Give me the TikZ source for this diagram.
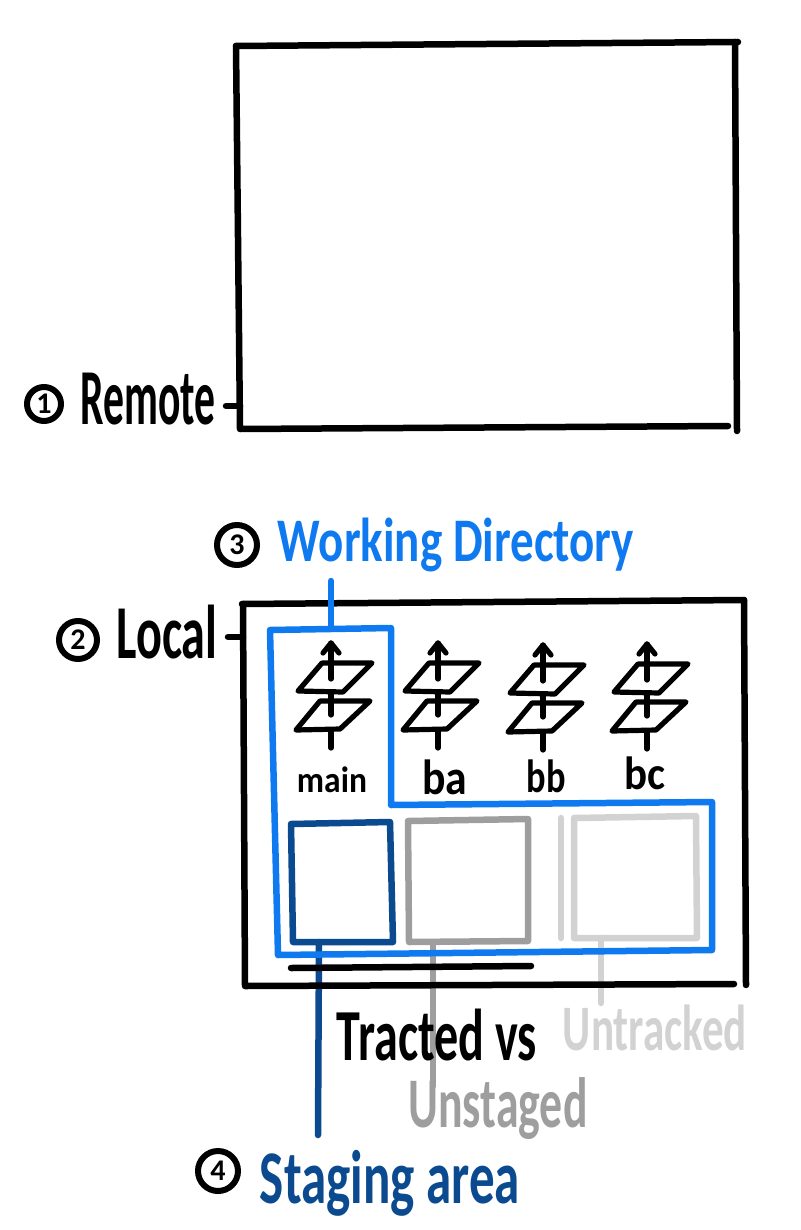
\documentclass[tikz,border=0pt]{standalone}
\usepackage{fontspec}
\usepackage{graphicx}
\setmainfont{Carlito}
\definecolor{wdblue}{HTML}{0F7AF0}
\definecolor{stblue}{HTML}{0B4A8F}
\definecolor{usgray}{HTML}{9E9E9E}
\definecolor{utgray}{HTML}{D2D2D2}
\newcommand{\hw}[3]{\resizebox*{#1pt}{#2pt}{\bfseries #3}}
\tikzset{
  ink/.style={line width=6.5pt,line cap=round,line join=round,draw=black},
  thin ink/.style={line width=5.2pt,line cap=round,line join=round,draw=black},
  label text/.style={inner sep=0pt,text=black},
  num/.style={circle,draw=black,line width=6pt,inner sep=0pt,minimum size=#1,font=\bfseries\fontsize{30}{30}\selectfont},
  stackicon/.pic={
    \draw[thin ink] (0,103) -- (0,87);
    \draw[thin ink] (0,70) -- (0,48);
    \draw[thin ink] (0,34) -- (0,-2);
    \draw[thin ink] (-8,8) -- (0,-2) -- (8,8);
    \draw[thin ink] (-33,46) -- (-9,18) -- (41,18) -- (12,47) -- cycle;
    \draw[thin ink] (-35,85) -- (-11,56) -- (39,56) -- (9,84) -- cycle;
  }
}
\begin{document}
\begin{tikzpicture}[x=1pt,y=-1pt]
\useasboundingbox (0,0) rectangle (800,1230);
% named points
\coordinate (rt1) at (226,406); \coordinate (rt2) at (240,406);
\coordinate (lt1) at (228,637); \coordinate (lt2) at (243,637);
\coordinate (wdtop) at (331,581); \coordinate (wdbox) at (331,628);
\coordinate (stbox) at (319,942); \coordinate (stend) at (318,1135);
\coordinate (usbox) at (433,942); \coordinate (usend) at (433,1086);
\coordinate (utbox) at (601,938); \coordinate (utend) at (601,1003);
% connectors beneath
\draw[ink,draw=stblue] (stbox) -- (stend);
\draw[ink,draw=usgray] (usbox) -- (usend);
\draw[ink,draw=utgray] (utbox) -- (utend);
% remote box
\draw[ink] (236,46) -- (738,42);
\draw[ink] (236,46) -- (240,429) -- (728,426);
\draw[ink] (735,42) -- (737,431);
\draw[ink] (rt1) -- (rt2);
% local box
\draw[ink] (242,604) -- (744,600);
\draw[ink] (243,604) -- (245,986) -- (734,984);
\draw[ink] (744,600) -- (746,985);
\draw[ink] (lt1) -- (lt2);
% working directory outline
\draw[ink,draw=wdblue] (wdtop) -- (wdbox);
\draw[ink,draw=wdblue] (270,630) -- (391,628) -- (391,805) -- (712,802) -- (712,950) -- (278,955) -- cycle;
% stores
\draw[ink,draw=stblue] (291,824) -- (390,822) -- (393,942) -- (293,942) -- cycle;
\draw[ink,draw=usgray] (408,821) -- (528,819) -- (528,941) -- (409,942) -- cycle;
\draw[ink,draw=utgray] (574,818) -- (696,816) -- (697,938) -- (574,938) -- cycle;
\draw[ink,draw=utgray] (561,818) -- (561,938);
\draw[ink] (291,968) -- (531,966);
% stacks
\pic (s1) at (331,645) {stackicon};
\pic (s2) at (438,645) {stackicon};
\pic (s3) at (543,647) {stackicon};
\pic (s4) at (647,646) {stackicon};
% labels
\node[label text] (main) at (332,780) {\hw{70}{26}{main}};
\node[label text] (ba) at (445,777) {\hw{45}{35}{ba}};
\node[label text] (bb) at (546,776) {\hw{39}{33}{bb}};
\node[label text] (bc) at (645,773) {\hw{41}{33}{bc}};
\node[num=34pt] (n1) at (44,404) {1};
\node[label text] (remote) at (148,399) {\hw{135}{52}{Remote}};
\node[num=38pt] (n2) at (78,640) {2};
\node[label text] (local) at (167,632) {\hw{101}{54}{Local}};
\node[num=40pt] (n3) at (237,545) {3};
\node[label text,text=wdblue] (wd) at (456,545) {\hw{356}{54}{Working Directory}};
\node[num=40pt] (n4) at (218,1171) {4};
\node[label text,text=stblue] (st) at (390,1183) {\hw{260}{66}{Staging area}};
\node[label text] (tr) at (437,1035) {\hw{200}{52}{Tracted vs}};
\node[label text,text=utgray] (ut) at (655,1028) {\hw{184}{46}{Untracked}};
\node[label text,text=usgray] (us) at (498,1109) {\hw{179}{62}{Unstaged}};
\end{tikzpicture}
\end{document}
